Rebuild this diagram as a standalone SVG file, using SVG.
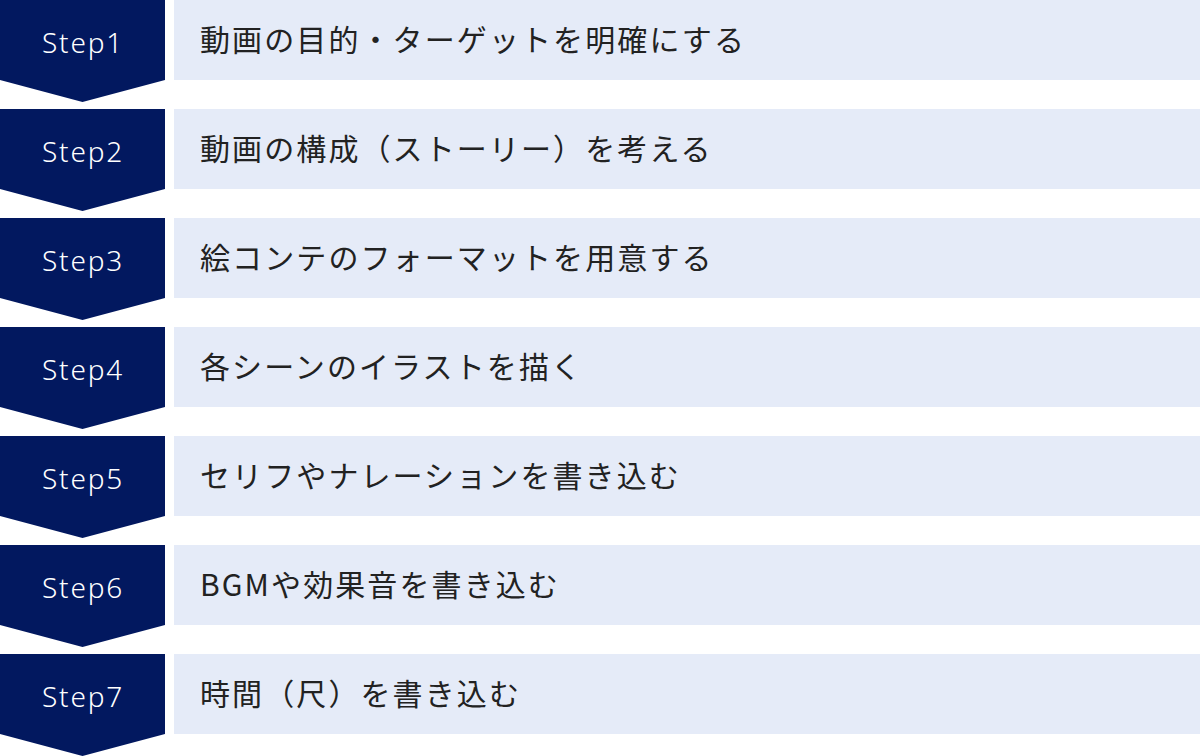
<svg xmlns="http://www.w3.org/2000/svg" width="1200" height="756" viewBox="0 0 1200 756">
<style>
.chev{fill:#02185f}
.bar{fill:#e5ebf8}
.step{font-family:"Noto Sans","DejaVu Sans",sans-serif;font-size:28px;font-weight:300;fill:#ffffff;text-anchor:middle;letter-spacing:1.8px}
.lbl{font-family:"Noto Sans CJK JP","Noto Sans",sans-serif;font-size:30px;fill:#222222;letter-spacing:2.1px}
</style>
<defs>
<path id="chevron" d="M0 0H165V80L82.5 102L0 80Z"/>
</defs>
<g id="step1" transform="translate(0,0)"><use href="#chevron" class="chev"/><rect class="bar" x="174" y="0" width="1026" height="80"/><text class="step" x="83" y="53">Step1</text><text class="lbl" x="200" y="51">動画の目的・ターゲットを明確にする</text></g>
<g id="step2" transform="translate(0,109)"><use href="#chevron" class="chev"/><rect class="bar" x="174" y="0" width="1026" height="80"/><text class="step" x="83" y="53">Step2</text><text class="lbl" x="200" y="51">動画の構成（ストーリー）を考える</text></g>
<g id="step3" transform="translate(0,218)"><use href="#chevron" class="chev"/><rect class="bar" x="174" y="0" width="1026" height="80"/><text class="step" x="83" y="53">Step3</text><text class="lbl" x="200" y="51">絵コンテのフォーマットを用意する</text></g>
<g id="step4" transform="translate(0,327)"><use href="#chevron" class="chev"/><rect class="bar" x="174" y="0" width="1026" height="80"/><text class="step" x="83" y="53">Step4</text><text class="lbl" x="200" y="51">各シーンのイラストを描く</text></g>
<g id="step5" transform="translate(0,436)"><use href="#chevron" class="chev"/><rect class="bar" x="174" y="0" width="1026" height="80"/><text class="step" x="83" y="53">Step5</text><text class="lbl" x="200" y="51">セリフやナレーションを書き込む</text></g>
<g id="step6" transform="translate(0,545)"><use href="#chevron" class="chev"/><rect class="bar" x="174" y="0" width="1026" height="80"/><text class="step" x="83" y="53">Step6</text><text class="lbl" x="200" y="51">BGMや効果音を書き込む</text></g>
<g id="step7" transform="translate(0,654)"><use href="#chevron" class="chev"/><rect class="bar" x="174" y="0" width="1026" height="80"/><text class="step" x="83" y="53">Step7</text><text class="lbl" x="200" y="51">時間（尺）を書き込む</text></g>
<g id="connectors"></g>
</svg>
